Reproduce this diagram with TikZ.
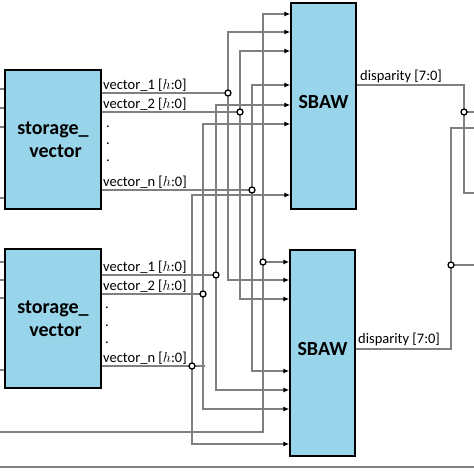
\documentclass[tikz,border=0pt]{standalone}
\usepackage{fontspec}
\setmainfont{Carlito}
\usetikzlibrary{arrows.meta}
\definecolor{boxblue}{HTML}{99D5EA}
\definecolor{wiregray}{HTML}{808080}

\begin{document}
\begin{tikzpicture} [x=1pt, y=-1pt, every text node part/.style={align=center}]
        \tikzset{
          unitbox/.style={draw=black, line width=1.4pt, fill=boxblue, inner sep=0pt,
            font=\fontsize{20}{23}\selectfont\bfseries},
          sbaw/.style={unitbox, minimum width=65pt, minimum height=206pt, text depth=9pt},
          storebox/.style={unitbox, minimum width=96pt, minimum height=139pt},
          wire/.style={draw=wiregray, line width=1.2pt},
          arr/.style={wire, -{Latex[length=6pt,width=5pt,color=black]}},
          arrs/.style={wire, {Latex[length=6pt,width=5pt,color=black]}-{Latex[length=6pt,width=5pt,color=black]}},
          port/.style={anchor=base west, inner sep=0pt, font=\fontsize{14.5}{14.5}\selectfont},
          jdot/.style={circle, draw=black, fill=white, line width=1.3pt, inner sep=0pt, minimum size=6pt},
        }
        \useasboundingbox (0,0) rectangle (474,474);
        \node [storebox, align=left] (svA) at (53,139.5) {storage\_\\\hspace*{5pt}vector};
        \node [storebox, align=left] (svB) at (53,318.5) {storage\_\\\hspace*{5pt}vector};
        \node [sbaw] (sbA) at (323.5,106) {SBAW};
        \node [sbaw] (sbB) at (322.5,353) {SBAW};
        % 
        \coordinate (lA1) at (0,89);
        \coordinate (lA2) at (0,108);
        \coordinate (lA3) at (0,127);
        \coordinate (lA4) at (0,198);
        \coordinate (lB1) at (0,262);
        \coordinate (lB2) at (0,280);
        \coordinate (lB3) at (0,298);
        \coordinate (lB4) at (0,370);
        \draw [wire] (lA1) -- (svA.west |- lA1);
        \draw [wire] (lA2) -- (svA.west |- lA2);
        \draw [wire] (lA3) -- (svA.west |- lA3);
        \draw [wire] (lA4) -- (svA.west |- lA4);
        \draw [wire] (lB1) -- (svB.west |- lB1);
        \draw [wire] (lB2) -- (svB.west |- lB2);
        \draw [wire] (lB3) -- (svB.west |- lB3);
        \draw [wire] (lB4) -- (svB.west |- lB4);
        % 
        \coordinate (jA1) at (228,93);
        \coordinate (jA2) at (240,112);
        \coordinate (jAn) at (252,190);
        \coordinate (jB1) at (216,275);
        \coordinate (jB2) at (203,294);
        \coordinate (jBn) at (192,366);
        \coordinate (jBe) at (205,366);
        \draw [wire] (svA.east |- jA1) -- (jA1);
        \draw [wire] (svA.east |- jA2) -- (jA2);
        \draw [wire] (svA.east |- jAn) -- (jAn);
        \draw [wire] (svB.east |- jB1) -- (jB1);
        \draw [wire] (svB.east |- jB2) -- (jB2);
        \draw [wire] (svB.east |- jBn) -- (jBe);
        % 
        \coordinate (tA1) at (263,14);
        \coordinate (tB1) at (263,262);
        \coordinate (fb) at (263,432);
        \coordinate (fbl) at (0,432);
        \coordinate (tA2) at (228,32);
        \coordinate (tB2) at (228,280);
        \coordinate (tA3) at (240,51);
        \coordinate (tB3) at (240,299);
        \coordinate (tA4) at (252,85);
        \coordinate (tB4) at (252,371);
        \coordinate (tA5) at (216,105);
        \coordinate (tB5) at (216,390);
        \coordinate (tA6) at (203,124);
        \coordinate (tB6) at (203,409);
        \coordinate (tA7) at (192,195);
        \coordinate (tB7) at (192,444);
        \draw [arr] (fbl) -- (fb) -- (tA1) -- (sbA.west |- tA1);
        \draw [arr] (tB1) -- (sbB.west |- tB1);
        \draw [arrs] (sbA.west |- tA2) -- (tA2) -- (tB2) -- (sbB.west |- tB2);
        \draw [arrs] (sbA.west |- tA3) -- (tA3) -- (tB3) -- (sbB.west |- tB3);
        \draw [arrs] (sbA.west |- tA4) -- (tA4) -- (tB4) -- (sbB.west |- tB4);
        \draw [arrs] (sbA.west |- tA5) -- (tA5) -- (tB5) -- (sbB.west |- tB5);
        \draw [arrs] (sbA.west |- tA6) -- (tA6) -- (tB6) -- (sbB.west |- tB6);
        \draw [arrs] (sbA.west |- tA7) -- (tA7) -- (tB7) -- (sbB.west |- tB7);
        % 
        \coordinate (oA) at (464,85);
        \coordinate (oAd) at (464,193);
        \coordinate (oAr) at (474,193);
        \coordinate (kA) at (464,112);
        \coordinate (kAr) at (474,112);
        \coordinate (oB) at (451,349);
        \coordinate (oBu) at (451,128);
        \coordinate (oBr) at (474,128);
        \coordinate (kB) at (451,265);
        \coordinate (kBr) at (474,265);
        \draw [wire] (sbA.east |- oA) -- (oA) -- (oAd) -- (oAr);
        \draw [wire] (kA) -- (kAr);
        \draw [wire] (sbB.east |- oB) -- (oB) -- (oBu) -- (oBr);
        \draw [wire] (kB) -- (kBr);
        % 
        \coordinate (bl) at (0,467);
        \coordinate (br) at (474,467);
        \draw [wire] (bl) -- (br);
        % 
        \node [jdot] (dA1) at (jA1) {};
        \node [jdot] (dA2) at (jA2) {};
        \node [jdot] (dAn) at (jAn) {};
        \node [jdot] (dB1) at (jB1) {};
        \node [jdot] (dB2) at (jB2) {};
        \node [jdot] (dBn) at (jBn) {};
        \node [jdot] (dT) at (tB1) {};
        \node [jdot] (dkA) at (kA) {};
        \node [jdot] (dkB) at (kB) {};
        % 
        \node [port] (vA1) at (103,89) {vector\_1 [$h$:0]};
        \node [port] (vA2) at (103,108) {vector\_2 [$h$:0]};
        \node [port] (vAd1) at (106,127) {.};
        \node [port] (vAd2) at (106,144) {.};
        \node [port] (vAd3) at (106,161) {.};
        \node [port] (vAn) at (103,186) {vector\_n [$h$:0]};
        \node [port] (vB1) at (103,271) {vector\_1 [$h$:0]};
        \node [port] (vB2) at (103,290) {vector\_2 [$h$:0]};
        \node [port] (vBd1) at (105,308) {.};
        \node [port] (vBd2) at (105,326) {.};
        \node [port] (vBd3) at (105,343) {.};
        \node [port] (vBn) at (103,362) {vector\_n [$h$:0]};
        \node [port] (dispA) at (360,80) {disparity [7:0]};
        \node [port] (dispB) at (358,343) {disparity [7:0]};
    \end{tikzpicture}
\end{document}
